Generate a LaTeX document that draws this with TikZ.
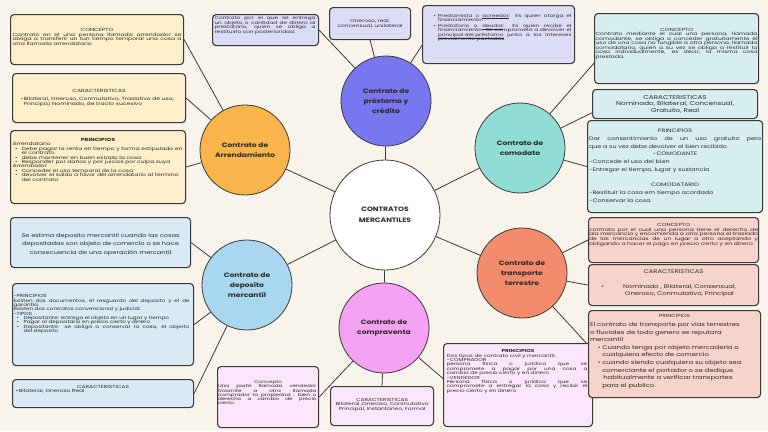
\documentclass[tikz,border=0pt]{standalone}
\usepackage{fontspec}
\setmainfont{Poppins}[FakeStretch=1.2]
\newfontfamily\smf{Poppins}[FakeStretch=1.34]
\newfontfamily\medf{Poppins}[FakeStretch=1.28]
\usetikzlibrary{backgrounds}
\definecolor{bg}{HTML}{F8F4EC}
\definecolor{ln}{HTML}{3A3A3A}
\definecolor{tx}{HTML}{2E2A28}
\definecolor{arrC}{HTML}{F9B54C}
\definecolor{arrB}{HTML}{FCEFC9}
\definecolor{preC}{HTML}{7877EF}
\definecolor{preB}{HTML}{DDDCF7}
\definecolor{comC}{HTML}{90DDD6}
\definecolor{comB}{HTML}{D6EEF0}
\definecolor{traC}{HTML}{F38C6D}
\definecolor{traB}{HTML}{F6D3CB}
\definecolor{venC}{HTML}{F6A2F4}
\definecolor{venB}{HTML}{FCE6FB}
\definecolor{depC}{HTML}{A8D7EF}
\definecolor{depB}{HTML}{D9EAF4}
\newcommand\bulpre{2pt}
\newcommand\bulind{9pt}
\newcommand\bul[1]{\par\hangindent=\bulind\hangafter=1\noindent\hbox to \bulind{\hskip\bulpre\textbullet\hss}#1\par}
\newcommand\bx[9]{\node[#1,anchor=north west,inner sep=0pt] (#2) at (#3,#4) {\parbox[c][#6pt][t]{#5pt}{\lineskiplimit=-20pt\lineskip=0pt\leftskip=#7pt\rightskip=#8pt\relax#9}};}
\tikzset{
  conn/.style={draw=ln, line width=0.8pt},
  topic/.style={circle, draw=ln, line width=0.8pt, minimum size=90pt, inner sep=0pt, align=center, text=tx, font=\fontsize{6.3}{10}\selectfont\bfseries},
  card/.style={draw=ln, line width=1.1pt, rounded corners=3.5pt, text=tx}
}
\begin{document}
\begin{tikzpicture}[x=1pt,y=-1pt]
\useasboundingbox (0,0) rectangle (768,431);
% circles
\node[topic, fill=white, minimum size=110pt, font=\fontsize{6.3}{11}\selectfont\bfseries] (center) at (385,215) {CONTRATOS\\MERCANTILES};
\node[topic, fill=preC] (pre) at (386,101) {Contrato de\\préstamo y\\crédito};
\node[topic, fill=arrC] (arr) at (245,150) {Contrato de\\Arrendamiento};
\node[topic, fill=comC] (com) at (520,148) {Contrato de\\comodato};
\node[topic, fill=traC] (tra) at (522,273) {Contrato de\\transporte\\terrestre};
\node[topic, fill=depC] (dep) at (247,285) {Contrato de\\deposito\\mercantil};
\node[topic, fill=venC] (ven) at (384,328) {Contrato de\\compraventa};
% arrendamiento
\bx{card,fill=arrB,font=\smf\fontsize{4.5}{4.7}\selectfont}{A1}{10}{14}{173}{50}{2}{2}{\vspace*{13.6pt}{\centering CONCEPTO\par}Contrato en el una persona llamada arrendador se\linebreak obliga a transferir un tun tiempo temporal una cosa a\linebreak otra llamada arrendatario}
\bx{card,fill=arrB,font=\smf\fontsize{4.5}{4.6}\selectfont}{A2}{12}{73}{173}{49}{2}{2}{\renewcommand\bulpre{6pt}\vspace*{15.4pt}{\centering CARACTERISTICAS\par}\vspace{4.1pt}\bul{Bilateral, Oneroso, Conmutativo, Traslativo de uso,\\ Principa,l Nominado, de tracto sucesivo}}
\bx{card,fill=arrB,font=\smf\fontsize{4.5}{4.4}\selectfont}{A3}{10}{130}{175}{73}{2}{3}{\renewcommand\bulpre{2.5pt}\renewcommand\bulind{9pt}\vspace*{7.7pt}{\centering\bfseries PRINCIPIOS\par}Arrendatario\par\bul{Debe pagar la renta en tiempo y forma estipulado en\\ el contrato.}\bul{debe mantener en buen estado la cosa}\bul{Responder por daños y por juicios por culpa suya}Arrendador\par\bul{Conceder el uso temporal de la cosa}\bul{devolver el saldo a favor del arrendatario al termino\\ del contrato}}
% deposito
\bx{card,fill=depB,font=\medf\fontsize{5.2}{8.3}\selectfont}{D1}{10}{217}{180}{50}{2}{2}{\vspace*{16.1pt}{\centering Se estima deposito mercantil cuando las cosas\\ depositadas son objeto de comercio o se hace\\ consecuencia de una operación mercantil\par}}
\bx{card,fill=depB,font=\medf\fontsize{4.4}{4.35}\selectfont}{D2}{12}{283}{181}{82}{1}{4}{\renewcommand\bulpre{3pt}\renewcommand\bulind{10pt}\vspace*{11.1pt}-PRINCIPIOS\par Existen dos documentos, el resguardo del deposito y el de\linebreak garantía.\par existen dos contratos convencional y judicial.\par -TIPOS\par\bul{Depositante: entrega el objeto en un lugar y tiempo}\bul{Pagar al depositario en precio cierto y dinero}\bul{Depositante: se obliga a conservar la cosa, el objerto\linebreak del deposito}}
\bx{card,fill=depB,font=\smf\fontsize{4.4}{4.6}\selectfont}{D3}{12}{379}{181}{28}{1}{7}{\renewcommand\bulpre{2pt}\renewcommand\bulind{5.3pt}\vspace*{5.4pt}{\centering CARACTERISTICAS\par}\bul{Bilateral, Oneroso Real}}
% prestamo
\bx{card,fill=preB,font=\smf\fontsize{4.3}{4.4}\selectfont}{P1}{212}{14}{106}{31}{2}{3}{\vspace*{2.1pt}Contrato por el que se entrega\linebreak un objeto o cantidad de dinero al\linebreak prestatario, quien se obliga a\linebreak restituirlo con posterioridad.}
\bx{card,fill=preB,font=\smf\fontsize{4.4}{5}\selectfont}{P2}{329}{7}{81}{32}{2}{2}{\vspace*{11.4pt}{\centering Oneroso, real,\\ concensual, unilateral\par}}
\bx{card,fill=preB,font=\smf\fontsize{4.3}{4.4}\selectfont}{P3}{422}{5}{152}{58}{11}{3}{\renewcommand\bulpre{0pt}\renewcommand\bulind{4.5pt}\vspace*{8.4pt}\bul{Prestamista o \underline{acreedor}: Es quien otorga el\linebreak financiamiento.}\vspace{1.3pt}\bul{Prestatario o \underline{deudor}: Es quien recibe el\linebreak financiamiento. Se compromete a devolver el\linebreak \underline{principal del préstamo} junto a los intereses\linebreak previamente pactados.}}
% comodato
\bx{card,fill=comB,font=\smf\fontsize{4.5}{4.5}\selectfont}{C1}{594}{13}{164}{70}{1}{1}{\vspace*{14.7pt}{\centering CONCEPTO\par}Contrato mediante el cual una persona, llamada\linebreak comodante, se obliga a conceder gratuitamente el\linebreak uso de una cosa no fungible a otra persona, llamada\linebreak comodatario, quien a su vez se obliga a restituir la\linebreak cosa individualmente, es decir, la misma cosa\linebreak prestada.}
\bx{card,fill=comB,font=\medf\fontsize{5.6}{6.7}\selectfont}{C2}{592}{89}{165}{29}{2}{2}{\vspace*{5.6pt}{\centering CARACTERISTICAS\\ Nominado, Bilateral, Concensual,\\ Gratuito, Real\par}}
\bx{card,fill=comB,font=\medf\fontsize{5}{7.67}\selectfont}{C3}{587}{120}{175}{92}{1.5}{1}{\vspace*{8.9pt}{\centering PRINCIPIOS\par}Dar consentimiento de un uso gratuito pero\linebreak que a su vez debe devolver el bien recibido\par{\centering -COMODANTE\par}-Concede el uso del bien\par -Entregar el tiempo, lugar y sustancia\par\vspace{7.67pt}{\centering COMODATARIO\par}-Restituir la cosa em tiempo acordado\par -Conservar la cosa}
% compraventa
\bx{card,fill=venB,font=\smf\fontsize{4.2}{4.2}\selectfont}{V1}{217}{366}{101}{61}{0.5}{2}{\vspace*{14.1pt}{\centering Concepto\par}Una parte llamada vendedor\linebreak trasmite a otra llamada\linebreak comprador la propiedad , bien o\linebreak derecho a cambio de precio\linebreak cierto.}
\bx{card,fill=venB,font=\smf\fontsize{4.4}{4.5}\selectfont}{V2}{330}{386}{103}{39}{1}{1}{\vspace*{11.7pt}{\centering CARACTERISTICAS\\ Bilateral ,Oneroso, Conmutativo\\ Principal, Instantáneo, Formal\par}}
\bx{card,fill=venB,font=\smf\fontsize{4.3}{4.4}\selectfont}{V3}{443}{343}{149}{83}{3}{5}{\vspace*{6.1pt}{\centering\bfseries PRINCIPIOS\par}Dos tipos de contrato civil y mercantil.\par -COMPRADOR\par persona física o jurídica que se\linebreak compromete a pagar por una cosa a\linebreak cambio de precio cierto y en dinero\par -VENDEDOR\par Persona física o jurídica que se\linebreak compromete a entregar la cosa y recibir el\linebreak precio cierto y en dinero}
% transporte
\bx{card,fill=traB,font=\smf\fontsize{4.5}{4.7}\selectfont}{T1}{588}{217}{170}{45}{0.5}{0.5}{\vspace*{5.7pt}{\centering CONCEPTO\par}contrato por el cual una persona tiene el derecho de\linebreak ala mercancia y encomienda a otra persona el traslado\linebreak de las mercancias de un lugar a otro aceptando y\linebreak obligando a hacer el pago en precio cierto y en dinero}
\bx{card,fill=traB,font=\medf\fontsize{5.3}{7.3}\selectfont}{T2}{588}{264}{170}{41}{0}{0}{\vspace*{5.1pt}{\centering CARACTERISTICAS\par}\vspace{7.7pt}\noindent\rlap{\hspace*{12.7pt}\textbullet}\hspace*{12pt}\hfill Nominado , Bilateral, Consensual,\hfill\null\par\noindent\hspace*{12pt}\hfill Oneroso, Conmutativo, Principal\hfill\null\par}
\bx{card,fill=traB,font=\medf\fontsize{5.4}{7.6}\selectfont}{T3}{588}{310}{172}{87}{1.5}{3}{\renewcommand\bulpre{7.8pt}\renewcommand\bulind{12.2pt}\vspace*{4.1pt}{\centering\fontsize{4.5}{4.5}\selectfont PRINCIPIOS\par}\vspace{1pt}El contrato de transporte por vias terrestres\\ o fluviales de todo genero se reputara\\ mercantil\par\bul{Cuando tenga por objeto mercaderia o\\ cualquiera efecto de comercio}\bul{cuando siendo cualquiera su objeto sea\\ comerciante el portador o se dedique\\ \hspace*{1pt}habitualmente a verificar transportes\\ para el publico.}}
% connectors
\begin{pgfonlayer}{background}
\fill[bg] (0,0) rectangle (768,431);
\draw[conn] (center) -- (pre);
\draw[conn] (center) -- (arr);
\draw[conn] (center) -- (com);
\draw[conn] (center) -- (tra);
\draw[conn] (center) -- (dep);
\draw[conn] (center) -- (ven);
\draw[conn] (A1.east) -- (arr);
\draw[conn] (A2.east) -- (arr);
\draw[conn] (A3.east) -- (arr);
\draw[conn] (P1.east) -- (pre);
\draw[conn] (P2.south) -- (pre);
\draw[conn] (P3.188) -- (pre);
\draw[conn] (C1.190) -- (com);
\draw[conn] (C2.186) -- (com);
\draw[conn] (C3.west) -- (com);
\draw[conn] (T1.west) -- (tra);
\draw[conn] (T2.west) -- (tra);
\draw[conn] (T3.174) -- (tra);
\draw[conn] (D1.east) -- (dep);
\draw[conn] (D2.east) -- (dep);
\draw[conn] (D3.east) -- (dep);
\draw[conn] (V1.east) -- (ven);
\draw[conn] (V2.north) -- (ven);
\draw[conn] (V3.175) -- (ven);
\end{pgfonlayer}
\end{tikzpicture}
\end{document}
